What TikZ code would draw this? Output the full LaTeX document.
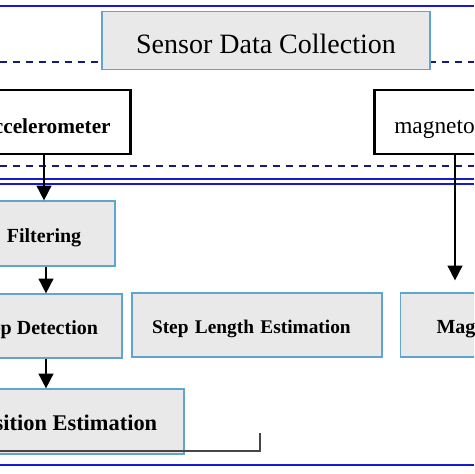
\documentclass[tikz,border=0pt]{standalone}
\usepackage{fontspec}
\setmainfont{Liberation Serif}
\usepackage{xcolor}
\usetikzlibrary{arrows.meta}

\definecolor{boxline}{RGB}{95,165,205}
\definecolor{boxfill}{RGB}{233,233,233}
\definecolor{lineblue}{RGB}{25,25,205}
\definecolor{dashnavy}{RGB}{25,25,120}
\definecolor{leftover}{RGB}{70,70,70}

\tikzset{
  stage/.style={draw=boxline, fill=boxfill, line width=0.9pt, minimum height=48pt, text height=14pt, text depth=1pt, font=\fontsize{15}{17}\selectfont\bfseries},
  sensor/.style={draw=black, fill=white, line width=2pt, minimum height=48pt, inner xsep=15pt, text height=19pt, text depth=1pt, font=\fontsize{16}{18}\selectfont},
  flow/.style={line width=1.3pt, -{Triangle[width=11pt,length=11pt]}},
  sepline/.style={lineblue, line width=1.5pt},
  dashsep/.style={dashnavy, line width=1.6pt, dash pattern=on 5.5pt off 4.25pt}
}

\begin{document}
\begin{tikzpicture}[x=0.75pt,y=0.75pt,yscale=-1,xscale=1]
\useasboundingbox (0,0) rectangle (474,474);
\clip (0,0) rectangle (474,474);

% separators
\draw [sepline] (0,6) -- (474,6) ;
\draw [dashsep] (0,62) -- (474,62) ;
\draw [dashsep] (0,166) -- (474,166) ;
\draw [sepline] (0,179) -- (474,179) ;
\draw [sepline] (0,184) -- (474,184) ;
\draw [sepline] (0,465) -- (474,465) ;

% title
\node (collect) [stage, font=\fontsize{21}{24}\selectfont, text height=21pt, minimum width=246pt, minimum height=44pt] at (266,40.5) {Sensor Data Collection};

% sensors
\node (acc) [sensor, font=\fontsize{16}{18}\selectfont\bfseries, anchor=east] at (132,122) {Accelerometer};
\node (mag) [sensor, font=\fontsize{17.5}{20}\selectfont, anchor=west] at (373,122) {magnetometer};

% processing stages
\node (filt) [stage, minimum width=106.5pt, minimum height=48.75pt] at (44,233.5) {Filtering};
\node (stepdet) [stage, minimum width=129pt] at (36,326) {Step Detection};
\node (steplen) [stage, font=\fontsize{14.5}{17}\selectfont\bfseries, inner xsep=15pt, text width=157.5pt, align=left] at (257,325) {Step Length Estimation};
\node (magdir) [stage, anchor=west, inner xsep=27pt] at (400,325) {Magnetic Heading Estimation};
\node (pos) [stage, font=\fontsize{16.8}{19}\selectfont\bfseries, text height=15pt, minimum width=180.75pt, minimum height=48.75pt] at (63.5,421.5) {Position Estimation};

% arrows
\coordinate (colA) at (46,0);
\coordinate (colB) at (455,0);
\draw [flow] (acc.south -| filt.north) -- (filt.north) ;
\draw [flow] (filt.south -| colA) -- (stepdet.north -| colA) ;
\draw [flow] (stepdet.south -| colA) -- (pos.north -| colA) ;
\draw [flow, shorten >=9pt] (mag.south -| colB) -- (magdir.north -| colB) ;

% open line
\coordinate (lineL) at (-60,451);
\coordinate (lineR) at (260,451);
\coordinate (lineT) at (260,433);
\draw [leftover, line width=0.8pt] (lineL) -- (lineR) -- (lineT) ;

\end{tikzpicture}
\end{document}
